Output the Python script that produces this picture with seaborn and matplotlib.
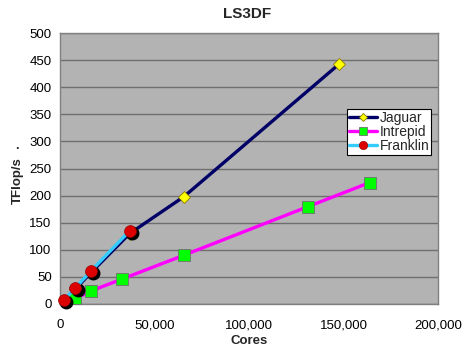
import matplotlib
matplotlib.use("Agg")
import matplotlib.pyplot as plt
import matplotlib.transforms as mtransforms
from matplotlib.ticker import FuncFormatter, MultipleLocator
import seaborn as sns
import pandas as pd

# ---- data ----
jaguar_cores = [2048, 8192, 16384, 36864, 65536, 147456]
jaguar_tflops = [6, 28, 58, 130, 198, 442]
intrepid_cores = [8192, 16384, 32768, 65536, 131072, 163840]
intrepid_tflops = [10.5, 24, 46, 90, 179.5, 224]
franklin_cores = [2048, 8192, 16384, 36864]
franklin_tflops = [7, 30, 61, 135]

sns.set_theme(style="white")
plt.rcParams['font.family'] = ['Liberation Sans', 'DejaVu Sans']

fig = plt.figure(figsize=(4.74, 3.54), dpi=100)
fig.patch.set_facecolor("white")
ax = fig.add_axes([60/474, 1-304/354, 378/474, 271/354])
ax.set_facecolor("#b3b3b3")

jag = pd.DataFrame({"Cores": jaguar_cores, "TF": jaguar_tflops})
intr = pd.DataFrame({"Cores": intrepid_cores, "TF": intrepid_tflops})
fra = pd.DataFrame({"Cores": franklin_cores, "TF": franklin_tflops})

sns.lineplot(data=jag, x="Cores", y="TF", ax=ax, color="#000066", lw=2.4,
             marker="D", markersize=6, markerfacecolor="#ffff00",
             markeredgecolor="#8a7a00", markeredgewidth=0.6, sort=False,
             label="Jaguar", zorder=3)
sns.lineplot(data=intr, x="Cores", y="TF", ax=ax, color="#ff00ff", lw=2.4,
             marker="s", markersize=8, markerfacecolor="#00ff00",
             markeredgecolor="#707070", markeredgewidth=0.6, sort=False,
             label="Intrepid", zorder=3)
# shadow for Franklin markers
shadow = mtransforms.offset_copy(ax.transData, fig=fig, x=2.2, y=-2.2, units="dots")
ax.plot(fra["Cores"], fra["TF"], ls="none", marker="o", markersize=9,
        color="black", transform=shadow, zorder=4, clip_on=False)
sns.lineplot(data=fra, x="Cores", y="TF", ax=ax, color="#33ccff", lw=2.4,
             marker="o", markersize=8.5, markerfacecolor="#dd0000",
             markeredgecolor="#990000", markeredgewidth=0.5, sort=False,
             label="Franklin", zorder=5, clip_on=False)

ax.set_xlim(0, 200000)
ax.set_ylim(0, 500)
ax.xaxis.set_major_locator(MultipleLocator(50000))
ax.yaxis.set_major_locator(MultipleLocator(50))
ax.xaxis.set_major_formatter(FuncFormatter(lambda v, p: f"{int(v):,}"))
ax.grid(axis="y", color="#6e6e6e", lw=1.0)
ax.set_axisbelow(True)
for s in ax.spines.values():
    s.set_color("#808080")
    s.set_linewidth(1.0)
ax.tick_params(axis="both", direction="out", length=4, width=0.8, color="#808080",
               labelsize=9.5, labelcolor="black", pad=3)
ax.tick_params(axis="x", pad=7)
ax.tick_params(axis="y", pad=2)

ax.set_xlabel("Cores", fontsize=9.5, fontweight="bold", labelpad=3)
ax.set_ylabel("", fontsize=8)
fig.text(18/474, 1-181/354, "TFlop/s", rotation=90, fontsize=9.5, fontweight="bold",
         ha="center", va="center")
fig.text(17/474, 1-146/354, ".", fontsize=9, fontweight="bold", ha="center", va="center")
fig.text(247/474, 1-14/354, "LS3DF", fontsize=11, fontweight="bold",
         ha="center", va="center")

leg = ax.legend(loc="upper left", bbox_to_anchor=(287/378, (304-109)/271),
                frameon=True, fancybox=False, fontsize=10, borderpad=0.15,
                handlelength=2.0, handletextpad=0.2, labelspacing=0.0,
                borderaxespad=0, markerscale=0.7)
leg.get_frame().set_edgecolor("black")
leg.get_frame().set_linewidth(0.8)
leg.get_frame().set_facecolor("white")
leg.get_frame().set_alpha(1)

fig.savefig("out.png", dpi=100)
